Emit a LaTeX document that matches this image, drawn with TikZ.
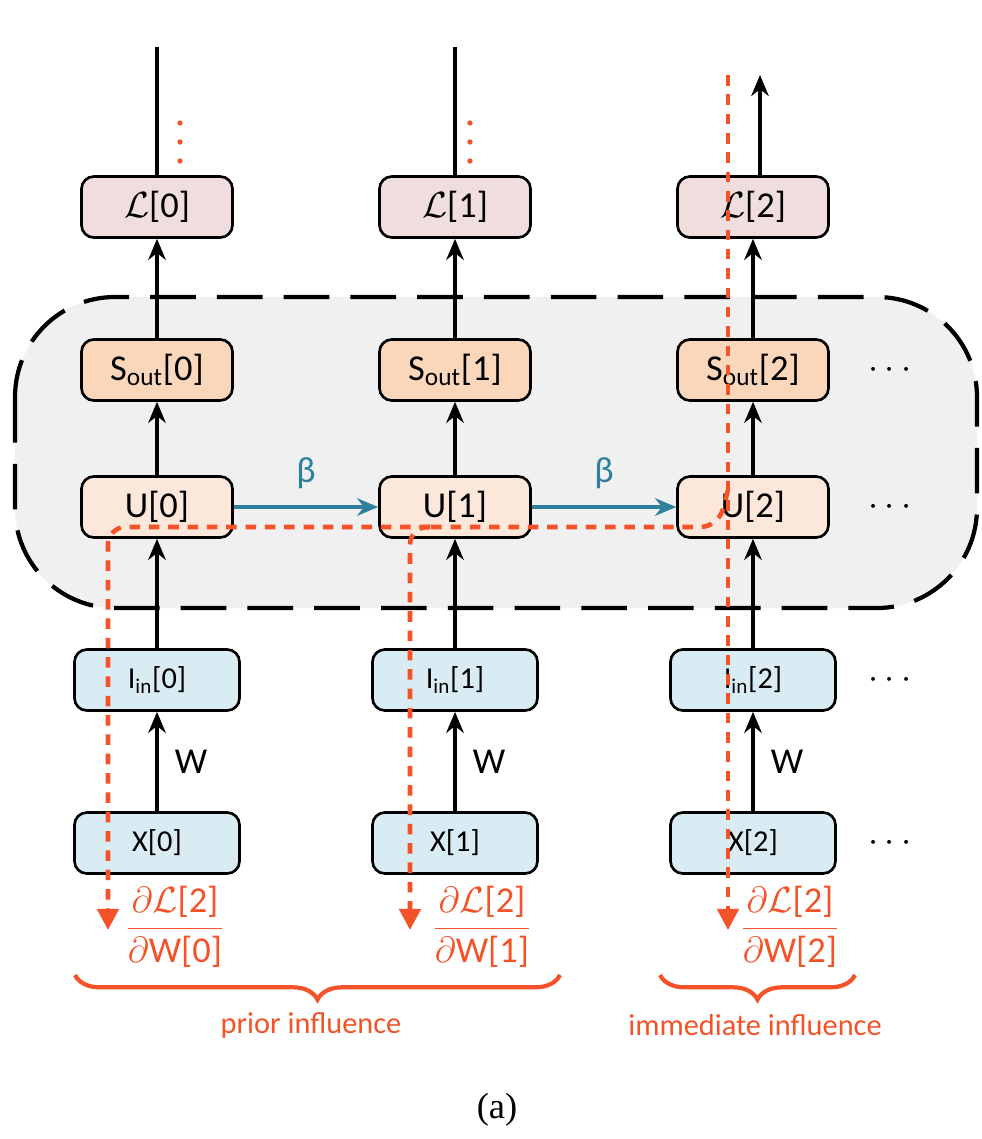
\documentclass[tikz,border=0pt]{standalone}
\usepackage{amsmath}
\usepackage{fontspec}
\setmainfont{Carlito}
\usetikzlibrary{arrows.meta,decorations.pathreplacing,positioning}
\definecolor{lossfill}{RGB}{240,221,221}
\definecolor{outfill}{RGB}{250,214,186}
\definecolor{memfill}{RGB}{252,232,218}
\definecolor{infill}{RGB}{218,236,243}
\definecolor{grad}{RGB}{244,82,40}
\definecolor{decay}{RGB}{45,128,158}
\begin{document}
\begin{tikzpicture}[x=0.02cm,y=-0.02cm,
  box/.style={draw,line width=1.5pt,rounded corners=7pt,minimum width=3.02cm,minimum height=1.22cm,font=\huge,inner sep=0pt},
  wbox/.style={box,minimum width=3.3cm,font=\LARGE},
  up/.style={line width=1.8pt,-{Stealth[length=12pt,width=10pt]}},
  back/.style={grad,line width=2.6pt,dash pattern=on 6pt off 5pt,rounded corners=10pt},
  backtip/.style={back,-{Triangle[length=12pt,width=12pt]}},
  dots/.style={font=\huge}]
\useasboundingbox (0,0) rectangle (981,1139);
% grey state region
\draw[fill=gray!12,line width=2.4pt,dash pattern=on 26pt off 12pt,rounded corners=2cm] (15,297) rectangle (977,608);
\foreach \i/\x in {0/157,1/455,2/753}{
  \node[box,fill=lossfill] (L\i) at (\x,207) {$\mathcal{L}$[\i]};
  \node[box,fill=outfill] (S\i) at (\x,370) {S\textsubscript{out}[\i]};
  \node[box,fill=memfill] (U\i) at (\x,507) {U[\i]};
  \node[wbox,fill=infill] (I\i) at (\x,680) {I\textsubscript{in}[\i]};
  \node[wbox,fill=infill] (X\i) at (\x,843) {X[\i]};
  \draw[up] (X\i) -- node[right=6pt,font=\huge]{W} (I\i);
  \draw[up] (I\i) -- (U\i);
  \draw[up] (U\i) -- (S\i);
  \draw[up] (S\i) -- (L\i);
}
\foreach \r/\y in {S/370,U/507,I/680,X/843}
  \node[dots] (dots\r) at (893,\y) {$\cdots$};
\coordinate (top0) at (157,47);
\coordinate (top1) at (455,47);
\coordinate (top2) at (760,75);
\draw[line width=1.8pt] (L0) -- (top0);
\draw[line width=1.8pt] (L1) -- (top1);
\draw[up] (L2.north-|top2) -- (top2);
\foreach \x in {180,470}
  \foreach \y in {123,142,161}
    \fill[grad] (\x,\y) circle (1.5pt);
\draw[up,decay] (U0) -- node[above=6pt,font=\huge]{β} (U1);
\draw[up,decay] (U1) -- node[above=6pt,font=\huge]{β} (U2);
% gradient paths
\coordinate (g2) at (728,930);
\coordinate (g1) at (410,930);
\coordinate (g0) at (108,930);
\draw[backtip] (728,75) -- (g2);
\draw[back] (728,490) -- (718,527) -- (425,527);
\draw[backtip] (430,527) -- (410,527) -- (g1);
\draw[backtip] (430,527) -- (108,527) -- (g0);
\foreach \i/\x in {0/175,1/482,2/790}
  \node[grad,font=\huge] (frac\i) at (\x,927) {$\dfrac{\partial\mathcal{L}\text{[2]}}{\partial\text{W[\i]}}$};
\draw[grad,line width=2.4pt,decorate,decoration={brace,mirror,amplitude=14pt}] (75,975) -- (560,975);
\draw[grad,line width=2.4pt,decorate,decoration={brace,mirror,amplitude=14pt}] (660,975) -- (855,975);
\node[grad,font=\LARGE] (prior) at (311,1025) {prior influence};
\node[grad,font=\LARGE] (immed) at (755,1025) {immediate influence};
\node[font=\fontspec{Liberation Serif}\huge] (cap) at (497,1110) {(a)};
\end{tikzpicture}
\end{document}
